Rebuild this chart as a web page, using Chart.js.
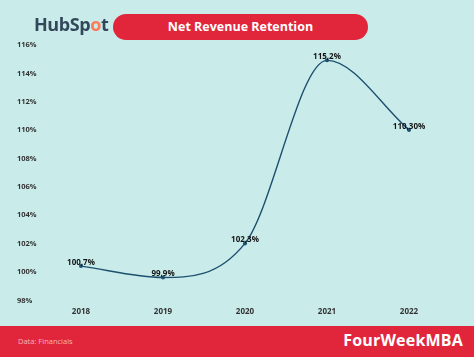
<!DOCTYPE html>
<html>
<head>
<meta charset="utf-8">
<script src="https://cdn.jsdelivr.net/npm/chart.js@4"></script>
<style>
  html, body { margin: 0; padding: 0; }
  body { width: 474px; height: 357px; overflow: hidden; }
  #wrap { position: relative; width: 474px; height: 357px; background: #c9ecea; font-family: "Open Sans", "DejaVu Sans", sans-serif; }
  #chart { position: absolute; left: 0; top: 0; }
  #logo { position: absolute; left: 34px; top: 12px; font-size: 18px; font-weight: 700; color: #33475b; letter-spacing: -0.4px; }
  #logo .o { color: #ff7a59; }
  #pill { position: absolute; left: 113px; top: 14px; width: 255px; height: 26px; border-radius: 13px; background: #e1263c; color: #fff; font-weight: 700; font-size: 12.5px; line-height: 26px; text-align: center; }
  #footer { position: absolute; left: 0; top: 326px; width: 474px; height: 31px; background: #e1263c; }
  #src { position: absolute; left: 18px; top: 10px; font-size: 7.5px; color: #f7b3bb; }
  #brand { position: absolute; right: 11px; top: 3px; font-size: 16px; font-weight: 700; color: #fff; letter-spacing: 0.2px; }
</style>
</head>
<body>
<div id="wrap">
  <canvas id="chart" width="474" height="357"></canvas>
  <div id="logo">HubSp<span class="o">o</span>t</div>
  <div id="pill">Net Revenue Retention</div>
  <div id="footer">
    <div id="src">Data: Financials</div>
    <div id="brand">FourWeekMBA</div>
  </div>
</div>
<script>
const years = ["2018", "2019", "2020", "2021", "2022"];
const nrrValues = [100.7, 99.9, 102.3, 115.2, 110.3];
const nrrLabels = ["100,7%", "99,9%", "102,3%", "115,2%", "110,30%"];
const yTickMin = 98;
const yTickMax = 116;
const yTickStep = 2;

const lineColor = "#1d4f6e";

const dataLabelPlugin = {
  id: "dataLabels",
  afterDatasetsDraw(chart) {
    const ctx = chart.ctx;
    const meta = chart.getDatasetMeta(0);
    ctx.save();
    ctx.font = "bold 8px 'Open Sans', sans-serif";
    ctx.fillStyle = "#141414";
    ctx.textAlign = "center";
    ctx.textBaseline = "alphabetic";
    meta.data.forEach((pt, i) => {
      ctx.fillText(nrrLabels[i], pt.x, pt.y - 1);
    });
    ctx.restore();
  }
};

new Chart(document.getElementById("chart"), {
  type: "line",
  data: {
    labels: years,
    datasets: [{
      data: nrrValues,
      borderColor: lineColor,
      borderWidth: 1.4,
      cubicInterpolationMode: "monotone",
      fill: false,
      pointRadius: 2,
      pointBackgroundColor: lineColor,
      pointBorderWidth: 0
    }]
  },
  options: {
    responsive: false,
    animation: false,
    devicePixelRatio: 1,
    layout: { padding: { left: 17, right: 65, top: 49, bottom: 0 } },
    plugins: { legend: { display: false }, tooltip: { enabled: false }, title: { display: false } },
    scales: {
      x: {
        offset: false,
        grid: { display: false, drawTicks: false },
        border: { display: false },
        ticks: { padding: 3, color: "#333", font: { family: "'Open Sans', sans-serif", size: 8, weight: "bold" } },
        afterFit(scale) { scale.height = 52.6; }
      },
      y: {
        min: yTickMin,
        max: yTickMax,
        grid: { display: false, drawTicks: false },
        border: { display: false },
        ticks: {
          stepSize: yTickStep,
          crossAlign: "far",
          labelOffset: -4,
          color: "#333",
          font: { family: "'Open Sans', sans-serif", size: 7.5, weight: "bold" },
          callback: (v) => v + "%"
        },
        afterFit(scale) { scale.width = 64; }
      }
    }
  },
  plugins: [dataLabelPlugin]
});
</script>
</body>
</html>
